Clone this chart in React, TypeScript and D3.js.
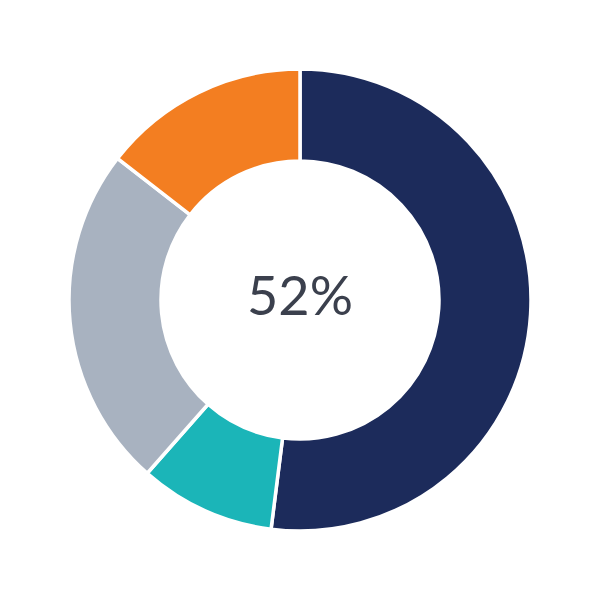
import React, { useRef, useEffect } from "react";
import * as d3 from "d3";

const categories = ["A", "B", "C", "D"];
const values = [52, 9.5, 24, 14.5];
const colors = ["#1c2b5b", "#1bb5b8", "#a8b2c0", "#f37e21"];
const centerLabel = "52%";

const App: React.FC = () => {
    const svgRef = useRef<SVGSVGElement | null>(null);

    useEffect(() => {
        if (!svgRef.current) return;

        const width = 600;
        const height = 600;
        const cx = 300;
        const cy = 300;
        const outerRadius = 231;
        const innerRadius = 139;

        const svg = d3.select(svgRef.current)
            .attr("width", width)
            .attr("height", height)
            .attr("viewBox", `0 0 ${width} ${height}`)
            .attr("style", "display: block; position: absolute; left: 0; top: 0; background: #fff;");

        svg.selectAll("*").remove();

        const data = categories.map((c, i) => ({ name: c, value: values[i], color: colors[i] }));

        const pie = d3.pie<typeof data[number]>()
            .value(d => d.value)
            .sort(null);

        const arc = d3.arc<d3.PieArcDatum<typeof data[number]>>()
            .innerRadius(innerRadius)
            .outerRadius(outerRadius);

        const g = svg.append("g")
            .attr("transform", `translate(${cx},${cy})`);

        g.selectAll("path")
            .data(pie(data))
            .join("path")
            .attr("d", arc)
            .attr("fill", d => d.data.color)
            .attr("stroke", "#fff")
            .attr("stroke-width", 3.5)
            .attr("stroke-linejoin", "miter");

        g.append("text")
            .attr("text-anchor", "middle")
            .attr("y", 15)
            .attr("fill", "#3b404d")
            .attr("font-family", "Lato, sans-serif")
            .attr("font-size", 54)
            .text(centerLabel);
    }, []);

    return <svg ref={svgRef} />;
};

export default App;
